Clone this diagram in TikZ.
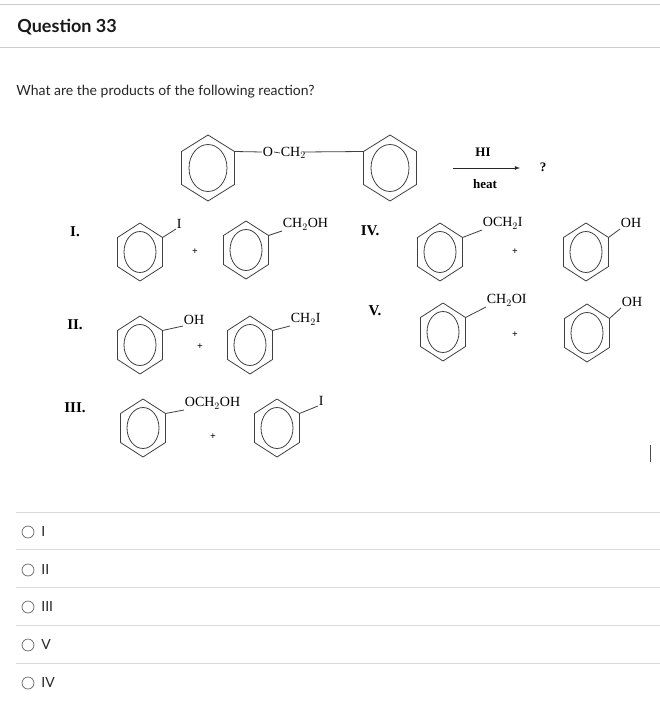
\documentclass[tikz,border=0pt]{standalone}
\usepackage{fontspec}
\setmainfont{Liberation Serif}
\newfontfamily\uifont{Lato}
\begin{document}
\begin{tikzpicture}[x=1pt,y=-1pt,line width=0.8pt,
  chem/.style={font=\fontsize{14}{14}\selectfont,inner sep=0.5pt},
  roman/.style={font=\bfseries\fontsize{15}{15}\selectfont,inner sep=0pt},
  plus/.style={font=\fontsize{10}{10}\selectfont\bfseries,inner sep=0pt},
  ui/.style={font=\uifont\fontsize{14}{14}\selectfont,text=black!85,inner sep=0pt,anchor=west},
  sep/.style={draw=black!15,line width=1pt},
  radio/.style={circle,draw=black!60,line width=0.7pt,minimum size=12pt,inner sep=0pt},
  benzB/.pic={
    \draw[black!75] (0,-33)--(26.5,-16.5)--(26.5,16.5)--(0,33)--(-26.5,16.5)--(-26.5,-16.5)--cycle;
    \draw[black!75] (0,0) ellipse (19 and 23.5);
    \coordinate (-ur) at (26.5,-16.5); \coordinate (-ul) at (-26.5,-16.5);},
  benzS/.pic={
    \draw[black!75] (0,-29)--(22.5,-14.5)--(22.5,14.5)--(0,29)--(-22.5,14.5)--(-22.5,-14.5)--cycle;
    \draw[black!75] (0,0) ellipse (16 and 20.5);
    \coordinate (-ur) at (22.5,-14.5); \coordinate (-ul) at (-22.5,-14.5);}
]
\useasboundingbox (0,0) rectangle (660,711);
\fill[white] (0,0) rectangle (660,711);
% header
\draw[black!20,line width=1pt] (0,5) -- (660,5);
\draw[black!20,line width=1pt] (0,48) -- (660,48);
\node[ui,font=\uifont\bfseries\fontsize{18}{18}\selectfont,text=black!90] (q) at (17,27) {Question 33};
\node[ui] (ask) at (16,92) {What are the products of the following reaction?};
% reactant
\pic (R1) at (208,168) {benzB};
\pic (R2) at (390,168) {benzB};
\node[chem] (O) at (268,152) {O};
\node[chem,anchor=west] (ch2) at (280,153) {CH$_2$};
\draw[black!75] (R1-ur) -- (O.west);
\draw[black!75] (O.east) -- (ch2.west);
\coordinate (c2e) at ([xshift=-3pt,yshift=1pt]ch2.east);
\draw[black!75] (c2e) -- (R2-ul);
\coordinate (a1) at (453,168); \coordinate (a2) at (520,168);
\draw[black!85,-latex] (a1) -- (a2);
\node[chem,font=\bfseries\fontsize{13}{13}\selectfont] (hi) at (483,152) {HI};
\node[chem,font=\bfseries\fontsize{13}{13}\selectfont] (heat) at (485,184) {heat};
\node[chem,font=\bfseries\fontsize{13}{13}\selectfont] (qm) at (543,167) {?};
% I
\node[roman] (l1) at (75,232) {I.};
\pic (A) at (140,252) {benzS};
\node[chem,anchor=south west] (Ai) at (176,229) {I};
\draw[black!75] (A-ur) -- (Ai.south west);
\node[plus] (p1) at (195,252) {+};
\pic (B) at (246,250) {benzS};
\node[chem,anchor=south west] (Bt) at (282,231) {CH$_2$OH};
\draw[black!75] (B-ur) -- (Bt.south west);
% IV
\node[roman] (l4) at (370,231) {IV.};
\pic (C) at (440,252) {benzS};
\node[chem,anchor=south west] (Ct) at (482,230) {OCH$_2$I};
\draw[black!75] (C-ur) -- (Ct.south west);
\node[plus] (p4) at (515,252) {+};
\pic (D) at (586,252) {benzS};
\node[chem,anchor=south west] (Dt) at (620,229) {OH};
\draw[black!75] (D-ur) -- (Dt.south west);
% II
\node[roman] (l2) at (75,325) {II.};
\pic (E) at (140,345) {benzS};
\node[chem,anchor=south west] (Et) at (183,326) {OH};
\draw[black!75] (E-ur) -- (Et.south west);
\node[plus] (p2) at (200,347) {+};
\pic (F) at (250,345) {benzS};
\node[chem,anchor=south west] (Ft) at (290,326) {CH$_2$I};
\draw[black!75] (F-ur) -- (Ft.south west);
% V
\node[roman] (l5) at (375,311) {V.};
\pic (G) at (443,332) {benzS};
\node[chem,anchor=south west] (Gt) at (486,307) {CH$_2$OI};
\draw[black!75] (G-ur) -- (Gt.south west);
\node[plus] (p5) at (515,335) {+};
\pic (H) at (587,333) {benzS};
\node[chem,anchor=south west] (Ht) at (621,308) {OH};
\draw[black!75] (H-ur) -- (Ht.south west);
% III
\node[roman] (l3) at (75,408) {III.};
\pic (J) at (143,428) {benzS};
\node[chem,anchor=south west] (Jt) at (184,410) {OCH$_2$OH};
\draw[black!75] (J-ur) -- (Jt.south west);
\node[plus] (p3) at (213,437) {+};
\pic (K) at (277,428) {benzS};
\node[chem,anchor=south west] (Kt) at (318,406) {I};
\draw[black!75] (K-ur) -- (Kt.south west);
\coordinate (cu1) at (650,445); \coordinate (cu2) at (650,462);
\draw[black!70,line width=0.8pt] (cu1) -- (cu2);
% choices
\foreach \yy in {512,549,587,625,663} \draw[sep] (16,\yy) -- (660,\yy);
\node[radio] (r1) at (28,532) {}; \node[ui] (t1) at (41,531) {I};
\node[radio] (r2) at (28,570) {}; \node[ui] (t2) at (41,569) {II};
\node[radio] (r3) at (28,607) {}; \node[ui] (t3) at (41,606) {III};
\node[radio] (r4) at (28,645) {}; \node[ui] (t4) at (41,644) {V};
\node[radio] (r5) at (28,683) {}; \node[ui] (t5) at (41,682) {IV};
\end{tikzpicture}
\end{document}
